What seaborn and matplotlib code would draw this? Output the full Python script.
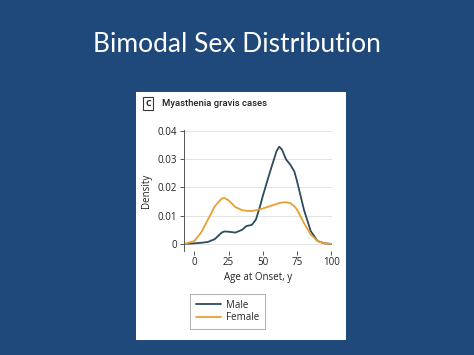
import pandas as pd
import numpy as np
import matplotlib
matplotlib.use("Agg")
import matplotlib.pyplot as plt
import seaborn as sns
from matplotlib.patches import Rectangle

# values
age = [-7, 0, 5, 10, 15, 20, 22, 25, 30, 35, 38, 42, 45, 48, 50, 55, 60, 62, 64, 67, 70, 73, 75, 80, 85, 90, 95, 100]
male = [0, 0.0002, 0.0004, 0.0007, 0.0017, 0.0040, 0.0044, 0.0043, 0.0040, 0.0050, 0.0063, 0.0067, 0.0086, 0.0133,
        0.0169, 0.0250, 0.0327, 0.0343, 0.0333, 0.0298, 0.0280, 0.0256, 0.0221, 0.0121, 0.0045, 0.0010, 0.0002, 0]
female = [0, 0.0010, 0.0040, 0.0086, 0.0133, 0.0160, 0.0162, 0.0154, 0.0130, 0.0119, 0.0117, 0.0116, 0.0119, 0.0122,
          0.0125, 0.0133, 0.0141, 0.0144, 0.0146, 0.0147, 0.0144, 0.0133, 0.0121, 0.0074, 0.0033, 0.0010, 0.0002, 0]
sexes = ["Male", "Female"]
colors = ["#2d4b5c", "#e8a030"]

df = pd.DataFrame({
    "age": age + age,
    "density": male + female,
    "sex": ["Male"] * len(age) + ["Female"] * len(age),
})

sns.set_style("white")
plt.rcParams["font.family"] = ["Open Sans", "DejaVu Sans"]

bg = "#20497b"
fig = plt.figure(figsize=(4.74, 3.55), dpi=100, facecolor=bg)
W, H = 474, 355

def px(x0, y0, x1, y1):
    return [x0 / W, 1 - y1 / H, (x1 - x0) / W, (y1 - y0) / H]

# white card
fig.patches.append(Rectangle((136 / W, 1 - 340 / H), 210 / W, 248 / H, transform=fig.transFigure,
                             facecolor="white", edgecolor="none", zorder=-5))

fig.text(237 / W, 1 - 45 / H, "Bimodal Sex Distribution", color="white", fontsize=19,
         ha="center", va="center", family=["Lato", "DejaVu Sans"])

# panel label
fig.patches.append(Rectangle((143 / W, 1 - 110 / H), 10 / W, 13 / H, transform=fig.transFigure,
                             facecolor="white", edgecolor="#333333", lw=0.8, zorder=1))
fig.text(148 / W, 1 - 103.5 / H, "C", fontsize=6.5, fontweight="bold", ha="center", va="center", color="#222222")
fig.text(162 / W, 1 - 103.5 / H, "Myasthenia gravis cases", fontsize=6.8, fontweight="medium",
         ha="left", va="center", color="#222222", family=["Roboto", "DejaVu Sans"])

ax = fig.add_axes(px(184, 130, 332, 251))
ax.set_facecolor("none")
sns.lineplot(data=df, x="age", y="density", hue="sex", hue_order=sexes,
             palette=colors, ax=ax, linewidth=1.3, legend=False)

ax.set_xlim(-7.5, 100.5)
ax.set_ylim(-0.0025, 0.0402)
ax.set_yticks([0, 0.01, 0.02, 0.03, 0.04])
ax.set_yticklabels(["0", "0.01", "0.02", "0.03", "0.04"])
ax.set_xticks([0, 25, 50, 75, 100])
ax.grid(axis="y", color="#e3e3e3", lw=0.7)
ax.set_axisbelow(True)
for s in ["top", "right", "bottom"]:
    ax.spines[s].set_visible(False)
ax.spines["left"].set_color("#555555")
ax.spines["left"].set_linewidth(0.7)
ax.tick_params(axis="y", length=3, width=0.7, color="#555555", labelsize=7, pad=2, left=True, labelcolor="#222222")
ax.tick_params(axis="x", length=3, width=0.7, color="#555555", labelsize=7, pad=1.5, bottom=True, labelcolor="#222222")
ax.set_xlabel("Age at Onset, y", fontsize=7, color="#222222", labelpad=3)
ax.set_ylabel("Density", fontsize=7, color="#222222", labelpad=4)

handles = [plt.Line2D([], [], color=c, lw=1.3) for c in colors]
leg = fig.legend(handles, sexes, loc="upper left", bbox_to_anchor=(190 / W, 1 - 294 / H),
                 frameon=True, fancybox=False, fontsize=7, handlelength=2.6, borderpad=0.6,
                 labelspacing=0.15, handletextpad=0.5, borderaxespad=0)
leg.get_frame().set_edgecolor("#999999")
leg.get_frame().set_linewidth(0.7)

fig.savefig("out.png", dpi=100, facecolor=bg)
